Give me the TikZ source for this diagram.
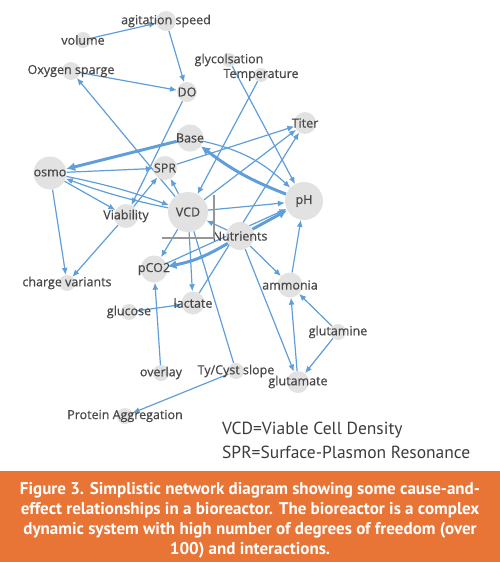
\documentclass[tikz,border=0pt]{standalone}
\usepackage{fontspec}
\setmainfont{Open Sans}
\newfontfamily\capfont{PT Sans}
\newfontfamily\lblfont{Open Sans}[FakeBold=0.6]
\usetikzlibrary{arrows.meta}
\definecolor{edgeblue}{RGB}{95,158,217}
\definecolor{nodegray}{RGB}{226,226,226}
\definecolor{lblgray}{RGB}{72,72,72}
\definecolor{leggray}{RGB}{60,60,60}
\definecolor{caporange}{RGB}{232,116,54}
\definecolor{crossgray}{RGB}{150,150,150}
\pgfdeclarelayer{edgelayer}
\pgfsetlayers{edgelayer,main}
\begin{document}
\begin{tikzpicture}[x=1pt,y=-1pt,
  nd/.style={circle,fill=nodegray,inner sep=0pt,minimum size=#1},
  lbl/.style={font=\lblfont\fontsize{12.5}{14}\selectfont,text=lblgray,inner sep=0pt},
  ed/.style={draw=edgeblue,line width=1.2pt,-{Latex[length=7pt,width=6pt]}},
  ln/.style={draw=edgeblue,line width=1.2pt},
  thk/.style={draw=edgeblue,line width=3pt,-{Latex[length=9pt,width=9pt]}},
]
\useasboundingbox (0,0) rectangle (500,562);
% nodes
\node[nd=16pt,label={[lbl]center:volume}] (volume) at (83,40) {};
\node[nd=20pt,label={[lbl]center:agitation speed}] (agit) at (166,21) {};
\node[nd=18pt,label={[lbl]center:Oxygen sparge}] (oxy) at (71,71) {};
\node[nd=20pt,label={[lbl]center:DO}] (DO) at (187,92) {};
\node[nd=14pt,label={[lbl]center:glycolsation}] (glyc) at (229,60) {};
\node[nd=14pt,label={[lbl]center:Temperature}] (temp) at (261,75) {};
\node[nd=22pt,label={[lbl]center:Titer}] (titer) at (305,123) {};
\node[nd=27pt,label={[lbl]center:Base}] (base) at (190,138) {};
\node[nd=33pt,label={[lbl]center:osmo}] (osmo) at (50,173) {};
\node[nd=24pt,label={[lbl]center:SPR}] (spr) at (165,168) {};
\node[nd=40pt,label={[lbl]center:VCD}] (vcd) at (188,212) {};
\node[nd=38pt,label={[lbl]center:pH}] (ph) at (304,201) {};
\node[nd=24pt,label={[lbl]center:Viability}] (via) at (126,216) {};
\node[nd=28pt,label={[lbl]center:Nutrients}] (nut) at (240,236) {};
\node[nd=27pt,label={[lbl]center:pCO2}] (pco2) at (154,269) {};
\node[nd=25pt,label={[lbl]center:ammonia}] (amm) at (290,285) {};
\node[nd=16pt,label={[lbl]center:charge variants}] (charge) at (67,283) {};
\node[nd=23pt,label={[lbl]center:lactate}] (lactate) at (193,303) {};
\node[nd=16pt,label={[lbl]center:glucose}] (glucose) at (129,312) {};
\node[nd=16pt,label={[lbl]center:glutamine}] (glutamine) at (338,332) {};
\node[nd=16pt,label={[lbl]center:overlay}] (overlay) at (161,373) {};
\node[nd=16pt,label={[lbl]center:Ty/Cyst slope}] (tycyst) at (236,371) {};
\node[nd=22pt,label={[lbl]center:glutamate}] (glutamate) at (298,382) {};
\node[nd=16pt,label={[lbl]center:Protein Aggregation}] (protagg) at (125,416) {};
% edges
\begin{pgfonlayer}{edgelayer}
\draw[ed] (volume) -- (agit);
\draw[ed] (agit) -- (DO);
\draw[ed] (oxy) -- (DO);
\draw[ed] (DO) -- (via);
\draw[ed] (vcd) -- (oxy);
\draw[thk] (base) -- (osmo);
\draw[ed] (osmo) -- (spr);
\draw[ed] (osmo) -- (via);
\draw[ed] (osmo) to[bend left=4] (vcd);
\draw[ed] (vcd) to[bend left=4] (osmo);
\draw[ed] (osmo) -- (charge);
\draw[ed] (via) -- (charge);
\draw[ed] (via) -- (spr);
\draw[ed] (vcd) -- (spr);
\draw[ed] (spr) -- (titer);
\draw[ed] (base) to[bend left=15] (ph);
\draw[thk] (ph) to[bend left=8] (base);
\draw[ed] (temp) -- (vcd);
\draw[ed] (glyc) -- (ph);
\draw[ed] (vcd) -- (titer);
\draw[ed] (lactate) -- (titer);
\draw[ed] (nut) -- (vcd);
\draw[thk] (nut) to[bend left=10] (pco2);
\draw[thk] (nut) -- (ph);
\draw[ed] (vcd) -- (ph);
\draw[ed] (pco2) -- (ph);
\draw[ed] (vcd) -- (pco2);
\draw[ed] (vcd) -- (lactate);
\draw[ln] (vcd) -- (tycyst);
\draw[ed] (nut) -- (amm);
\draw[ed] (nut) -- (glutamate);
\draw[ed] (amm) -- (ph);
\draw[ed] (glutamate) -- (amm);
\draw[ed] (glutamine) -- (amm);
\draw[ed] (glutamine) -- (glutamate);
\draw[ed] (tycyst) -- (protagg);
\draw[ed] (overlay) -- (pco2);
\draw[ed] (glucose) -- (lactate);
\end{pgfonlayer}
% cursor cross
\draw[crossgray,line width=2.2pt] (214,195) -- (214,238) -- (162,238);
% legend
\node[anchor=west,inner sep=0pt,text=leggray,font=\capfont\fontsize{17.5}{20}\selectfont] (leg1) at (222,430) {VCD=Viable Cell Density};
\node[anchor=west,inner sep=0pt,text=leggray,font=\capfont\fontsize{17.5}{20}\selectfont] (leg2) at (222,452) {SPR=Surface-Plasmon Resonance};
% caption
\fill[caporange] (0,471) rectangle (500,562);
\node[align=center,text=white,inner sep=0pt,font=\capfont\bfseries\fontsize{17}{20}\selectfont] (cap) at (250,520) {Figure 3. Simplistic network diagram showing some cause-and-\\effect relationships in a bioreactor. The bioreactor is a complex\\dynamic system with high number of degrees of freedom (over\\100) and interactions.};
\end{tikzpicture}
\end{document}
